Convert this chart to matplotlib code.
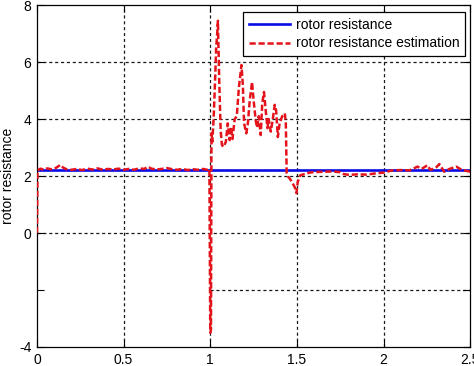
import matplotlib
matplotlib.use('Agg')
import matplotlib.pyplot as plt

plt.rcParams['font.family'] = ['Liberation Sans', 'DejaVu Sans']

# reference rotor resistance
t_ref = [0.0, 2.5]
r_ref = [2.2, 2.2]

# estimated rotor resistance
t_est = [0.0, 0.003, 0.02, 0.04, 0.06, 0.08, 0.10, 0.12, 0.135, 0.15, 0.17, 0.20,
         0.23, 0.26, 0.29, 0.32, 0.35, 0.38, 0.41, 0.44, 0.47, 0.50, 0.53, 0.56,
         0.59, 0.62, 0.64, 0.66, 0.69, 0.72, 0.75, 0.78, 0.81, 0.84, 0.87, 0.90,
         0.93, 0.96, 0.98, 0.995,
         1.0, 1.004, 1.007, 1.012, 1.02, 1.028, 1.034, 1.04, 1.044, 1.052, 1.06,
         1.067, 1.075, 1.09, 1.101, 1.112, 1.12, 1.128, 1.141, 1.153, 1.165, 1.18,
         1.188, 1.195, 1.208, 1.217, 1.228, 1.241, 1.25, 1.262, 1.27, 1.28, 1.291,
         1.30, 1.31, 1.32, 1.33, 1.337, 1.349, 1.36, 1.372, 1.38, 1.39, 1.40,
         1.415, 1.43, 1.436, 1.441, 1.45, 1.46, 1.475, 1.488, 1.497, 1.505, 1.52,
         1.545, 1.573, 1.60, 1.65, 1.70, 1.746, 1.77, 1.80, 1.85, 1.90, 1.95,
         2.0, 2.05, 2.10, 2.15, 2.196, 2.22, 2.253, 2.27, 2.30, 2.322, 2.35,
         2.38, 2.42, 2.45, 2.48, 2.5]
r_est = [0.0, 2.2, 2.26, 2.22, 2.27, 2.24, 2.25, 2.33, 2.39, 2.3, 2.24, 2.22,
         2.25, 2.21, 2.26, 2.23, 2.27, 2.22, 2.25, 2.23, 2.26, 2.22, 2.25, 2.22,
         2.27, 2.25, 2.33, 2.26, 2.23, 2.25, 2.28, 2.24, 2.22, 2.25, 2.21, 2.24,
         2.22, 2.25, 2.22, 2.25,
         -3.5, -3.4, 3.5, 3.2, 4.1, 5.4, 6.5, 7.0, 7.45, 5.3, 3.6,
         3.1, 3.02, 3.2, 3.85, 3.26, 3.72, 3.3, 4.0, 4.1, 5.1, 5.9,
         5.2, 3.85, 3.5, 3.85, 4.67, 5.3, 4.67, 3.96, 3.7, 4.1, 3.44,
         4.55, 4.95, 4.3, 3.68, 4.0, 3.56, 3.96, 4.5, 4.3, 3.37, 3.85,
         4.1, 4.2, 3.85, 2.1, 1.97, 1.9, 1.75, 1.6, 1.4, 1.8, 2.03,
         2.07, 2.12, 2.14, 2.15, 2.16, 2.14, 2.07, 2.04, 2.06, 2.05, 2.09,
         2.12, 2.2, 2.21, 2.2, 2.33, 2.25, 2.38, 2.22, 2.28, 2.42, 2.15,
         2.25, 2.33, 2.22, 2.18, 2.15]

x_ticks = [0, 0.5, 1, 1.5, 2, 2.5]
x_labels = ['0', '0.5', '1', '1.5', '2', '2.5']
y_ticks = [-4, -2, 0, 2, 4, 6, 8]
y_labels = ['-4', '', '0', '2', '4', '6', '8']

fig = plt.figure(figsize=(4.74, 3.66), dpi=100)
ax = fig.add_axes([0.078, 0.052, 0.914, 0.934])

grid_kw = dict(color='#1a1a1a', linewidth=0.9, linestyle=(0, (2.5, 2.2)), zorder=1)
for xt in x_ticks[1:-1]:
    ax.axvline(xt, **grid_kw)
for yt in y_ticks[1:-1]:
    if yt == -2:
        # this grid line only shows to the right of t = 1
        ax.hlines(yt, 1.0, 2.5, **grid_kw)
    else:
        ax.axhline(yt, **grid_kw)

ax.plot(t_ref, r_ref, color='#0a0ae6', linewidth=1.9, label='rotor resistance', zorder=2)
ax.plot(t_est, r_est, color='#e4141c', linewidth=1.8, dashes=(2.5, 1.1),
        label='rotor resistance estimation', zorder=3)

ax.set_xlim(0, 2.5)
ax.set_ylim(-4, 8)
ax.set_xticks(x_ticks)
ax.set_xticklabels(x_labels)
ax.set_yticks(y_ticks)
ax.set_yticklabels(y_labels)
ax.tick_params(direction='in', top=True, right=True, length=5, width=0.8,
               labelsize=10, pad=4)
for s in ax.spines.values():
    s.set_linewidth(0.9)

ax.set_ylabel('rotor resistance', fontsize=10)
ax.yaxis.set_label_coords(-0.05, 0.5)

leg = ax.legend(loc='upper right', bbox_to_anchor=(465 / 474, 1 - 12 / 366),
                bbox_transform=fig.transFigure, fontsize=10, fancybox=False,
                framealpha=1, edgecolor='black', handlelength=3.0,
                handletextpad=0.4, borderpad=0.4, labelspacing=0.35,
                borderaxespad=0)
leg.get_frame().set_linewidth(0.9)

fig.savefig('out.png', dpi=100)
